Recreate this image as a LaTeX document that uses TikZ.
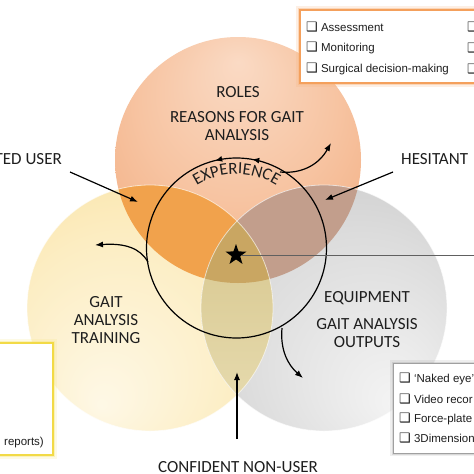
\documentclass[tikz,border=0pt]{standalone}
\usepackage{fontspec}
\setmainfont{Carlito}
\newfontfamily\boxfont{Liberation Sans}
\newfontfamily\symfont{DejaVu Sans}
\newcommand\chkbox{{\symfont\fontsize{13}{13}\selectfont ❑}}
\usetikzlibrary{shapes.geometric,arrows.meta,decorations.text,decorations.markings}
\definecolor{or1}{HTML}{FADAC4}
\definecolor{or2}{HTML}{F7C4A2}
\definecolor{or3}{HTML}{EE9C68}
\definecolor{ye1}{HTML}{FEF8E6}
\definecolor{ye2}{HTML}{FCEDC2}
\definecolor{ye3}{HTML}{F9DC92}
\definecolor{gr1}{HTML}{F4F4F4}
\definecolor{gr2}{HTML}{DCDCDC}
\definecolor{gr3}{HTML}{BDBDBD}
\definecolor{oy1}{HTML}{F1A24C}
\definecolor{oy2}{HTML}{F6C27C}
\definecolor{og}{HTML}{C29E8C}
\definecolor{yg1}{HTML}{D4C388}
\definecolor{yg2}{HTML}{E8DDB2}
\definecolor{oyg}{HTML}{C9A662}
\definecolor{txt}{HTML}{1E1E1E}
\definecolor{orbor}{HTML}{F4A05C}
\definecolor{orglow}{HTML}{F7B27A}
\definecolor{ybor}{HTML}{F2DA46}
\definecolor{yglow}{HTML}{F7E680}
\definecolor{gbor}{HTML}{A0A0A0}
\definecolor{hl}{HTML}{606060}
\pgfdeclareradialshading{orsh}{\pgfpoint{0bp}{20bp}}{color(0bp)=(or1); color(20bp)=(or2); color(50bp)=(or3)}
\pgfdeclareradialshading{yesh}{\pgfpoint{-10bp}{-20bp}}{color(0bp)=(ye1); color(25bp)=(ye2); color(50bp)=(ye3)}
\pgfdeclareradialshading{grsh}{\pgfpoint{15bp}{-20bp}}{color(0bp)=(gr1); color(25bp)=(gr2); color(50bp)=(gr3)}
\begin{document}
\begin{tikzpicture}[x=1pt,y=-1pt,
  lab/.style={font=\fontsize{17}{18}\selectfont, text=txt, inner sep=0pt},
  arr/.style={draw=black, line width=1.2pt, -{Latex[length=8pt,width=6pt]}},
  expc/.style={draw=black, line width=1.2pt},
  btxt/.style={font=\boxfont\fontsize{11.5}{13}\selectfont, anchor=west, inner sep=0pt, text=txt},
  obox/.style={draw=orbor, line width=1.6pt, fill=white, inner sep=0pt,
    preaction={draw=orglow, line width=8pt, opacity=0.2},
    preaction={draw=orglow, line width=4.5pt, opacity=0.4}},
  ybox/.style={draw=ybor, line width=1.6pt, fill=white, inner sep=0pt,
    preaction={draw=yglow, line width=8pt, opacity=0.2},
    preaction={draw=yglow, line width=4.5pt, opacity=0.4}},
  gbox/.style={draw=gbor, line width=0.8pt, fill=white, inner sep=0pt,
    preaction={draw=gray, line width=6pt, opacity=0.12},
    preaction={draw=gray, line width=3pt, opacity=0.2}},
  edge/.style={draw=white, opacity=0.6, line width=0.8pt}
]
\useasboundingbox (0,0) rectangle (474,474);
\clip (0,0) rectangle (474,474);
\fill[white] (0,0) rectangle (474,474);
\coordinate (cO) at (238,160);
\coordinate (cY) at (150,308);
\coordinate (cG) at (324,308);
\coordinate (cE) at (236.5,248);
% circles
\shade[shading=orsh] (cO) circle[radius=123];
\shade[shading=yesh] (cY) circle[radius=123];
\shade[shading=grsh] (cG) circle[radius=123];
% overlaps
\begin{scope}\clip (cO) circle[radius=123]; \shade[top color=oy1, bottom color=oy2, middle color=oy1] (cY) circle[radius=123];\end{scope}
\begin{scope}\clip (cO) circle[radius=123]; \fill[og] (cG) circle[radius=123];\end{scope}
\begin{scope}\clip (cY) circle[radius=123]; \shade[top color=yg1, bottom color=yg2] (cG) circle[radius=123];\end{scope}
\begin{scope}\clip (cO) circle[radius=123]; \clip (cY) circle[radius=123]; \fill[oyg] (cG) circle[radius=123];\end{scope}
\draw[edge] (cY) circle[radius=123];
\draw[edge] (cG) circle[radius=123];
% boxes
\node[obox, minimum width=200pt, minimum height=73pt] (tbox) at (400,46.5) {};
\node[ybox, minimum width=93pt, minimum height=112pt] (lbox) at (6.5,399) {};
\node[gbox, minimum width=107pt, minimum height=90pt] (rbox) at (446.5,408) {};
\node[btxt] (a1) at (306,27) {\chkbox{} Assessment};
\node[btxt] (a2) at (306,48) {\chkbox{} Monitoring};
\node[btxt] (a3) at (306,69) {\chkbox{} Surgical decision-making};
\node[btxt] (b1) at (467,27) {\chkbox};
\node[btxt] (b2) at (467,48) {\chkbox};
\node[btxt] (b3) at (467,69) {\chkbox};
\node[btxt, anchor=east] (rep) at (44,443) {reports)};
\node[btxt] (c1) at (399,379) {\chkbox{} ‘Naked eye’};
\node[btxt] (c2) at (399,399) {\chkbox{} Video recor};
\node[btxt] (c3) at (399,419) {\chkbox{} Force-plate};
\node[btxt] (c4) at (399,438) {\chkbox{} 3Dimension};
% labels
\node[lab] (roles) at (238,92) {ROLES};
\node[lab, align=center] (reasons) at (237,126) {REASONS FOR GAIT\\ANALYSIS};
\node[lab, align=center] (train) at (106,320) {GAIT\\ANALYSIS\\TRAINING};
\node[lab] (equip) at (367,298) {EQUIPMENT};
\node[lab, align=center] (outputs) at (367,333) {GAIT ANALYSIS\\OUTPUTS};
\node[lab, anchor=east] (ted) at (62,159) {TED USER};
\node[lab, anchor=west] (hes) at (401,159) {HESITANT};
\node[lab] (conf) at (238,467) {CONFIDENT NON-USER};
% experience circle
\draw[expc, postaction={decorate, decoration={markings,
   mark=at position 0.712 with {\arrowreversed{Latex[length=7pt,width=6pt]}},
   mark=at position 0.778 with {\arrowreversed{Latex[length=7pt,width=6pt]}}}}] (cE) circle[radius=90];
\path[decorate, decoration={text along path, text align=center,
   text={|\fontsize{17}{17}\selectfont\color{txt}|EXPERIENCE}}]
   (cE) ++(-155:74) arc[start angle=-155, end angle=-25, radius=74];
% star and line
\node[star, star points=5, star point ratio=2.5, fill=black, minimum size=22pt, inner sep=0pt] (st) at (236,255) {};
\coordinate (lend) at (480,255);
\draw[hl, line width=0.9pt] (st.east) -- (lend);
% arrows from labels
\coordinate (tedA) at (70,172); \coordinate (tedB) at (138,202);
\coordinate (hesA) at (393,172); \coordinate (hesB) at (325,200);
\coordinate (conA) at (237,439); \coordinate (conB) at (237,372);
\draw[arr] (tedA) -- (tedB);
\draw[arr] (hesA) -- (hesB);
\draw[arr] (conA) -- (conB);
% swooshes
\coordinate (s1) at (280,172); \coordinate (t1) at (331,143);
\coordinate (s2) at (148,262); \coordinate (t2) at (95,245);
\coordinate (s3) at (282,328); \coordinate (t3) at (303,378);
\draw[arr] (s1) .. controls (300,174) and (318,166) .. (t1);
\draw[arr] (s2) .. controls (140,248) and (125,243) .. (t2);
\draw[arr] (s3) .. controls (280,350) and (288,365) .. (t3);
\end{tikzpicture}
\end{document}
